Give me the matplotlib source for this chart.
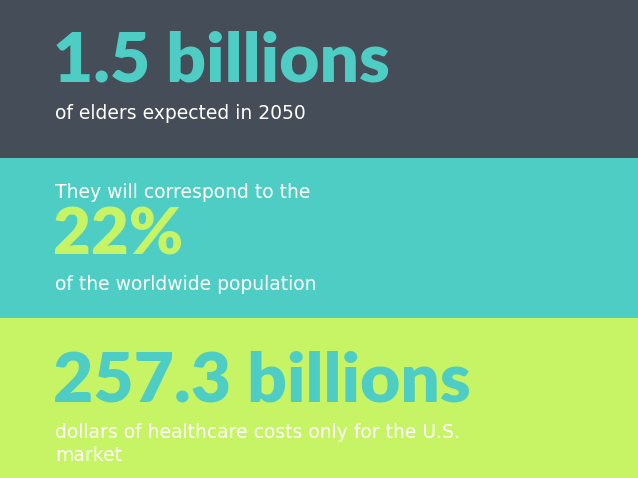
import matplotlib.pyplot as plt
from matplotlib.patches import Rectangle

# bands: (top, bottom) in pixels
band_edges = [0, 158, 318, 478]
band_colors = ['#454d59', '#4ecdc4', '#c7f464']

big_numbers = ['1.5 billions', '22%', '257.3 billions']
big_colors = ['#4ecdc4', '#c7f464', '#4ecdc4']
big_y = [62, 236, 382]
big_size = [50, 47, 50]

captions = ['of elders expected in 2050',
            'They will correspond to the',
            'of the worldwide population',
            'dollars of healthcare costs only for the U.S.\nmarket']
caption_y = [113, 192, 285, 444]

fig = plt.figure(figsize=(6.38, 4.78), dpi=100)
ax = fig.add_axes([0, 0, 1, 1])
ax.set_xlim(0, 638)
ax.set_ylim(478, 0)
ax.axis('off')

for i, c in enumerate(band_colors):
    ax.add_patch(Rectangle((0, band_edges[i]), 638, band_edges[i + 1] - band_edges[i],
                           color=c, lw=0))

for txt, col, y, s in zip(big_numbers, big_colors, big_y, big_size):
    ax.text(53, y, txt, color=col, fontsize=s, fontweight='heavy',
            family='Lato', va='center', ha='left')

for txt, y in zip(captions, caption_y):
    ax.text(55, y, txt, color='white', fontsize=13.5, family='DejaVu Sans',
            va='center', ha='left', linespacing=1.3)

fig.savefig('out.png', dpi=100)
